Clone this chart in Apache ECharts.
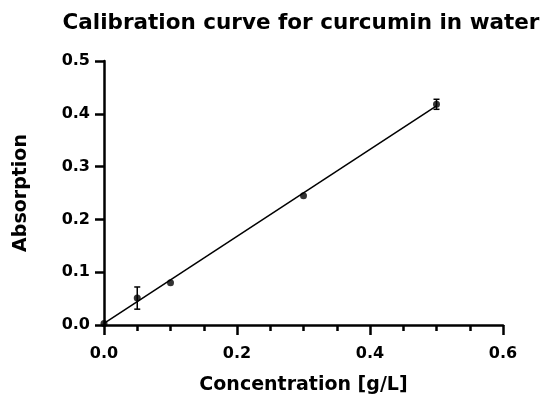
<!DOCTYPE html>
<html>
<head>
<meta charset="utf-8">
<script src="https://cdn.jsdelivr.net/npm/echarts@6/dist/echarts.min.js"></script>
<style>html,body{margin:0;padding:0;background:#fff;}#c{width:550px;height:404px;}</style>
</head>
<body>
<div id="c"></div>
<script>
const concentration = [0, 0.05, 0.1, 0.3, 0.5];
const absorption = [0.003, 0.051, 0.080, 0.245, 0.418];
const errors = [0, 0.021, 0, 0, 0.0095];
const fitX = [0, 0.5];
const fitY = [0.003, 0.415];
const xTicks = [0, 0.2, 0.4, 0.6];
const yTicks = [0, 0.1, 0.2, 0.3, 0.4, 0.5];

const FONT = 'DejaVu Sans';
const chart = echarts.init(document.getElementById('c'));
const pts = concentration.map((x, i) => [x, absorption[i]]);
const errData = concentration.map((x, i) => [x, absorption[i] - errors[i], absorption[i] + errors[i]]);
const fitData = fitX.map((x, i) => [x, fitY[i]]);

chart.setOption({
  animation: false,
  backgroundColor: '#fff',
  title: {
    text: 'Calibration curve for curcumin in water',
    left: 296, top: 7, textAlign: 'center',
    textStyle: { fontFamily: FONT, fontWeight: 'bold', fontSize: 21.5, color: '#000' }
  },
  grid: { left: 104, right: 47, top: 61, bottom: 79 },
  xAxis: {
    type: 'value', min: 0, max: 0.6, interval: 0.2,
    name: 'Concentration [g/L]', nameLocation: 'middle', nameGap: 51,
    nameTextStyle: { fontFamily: FONT, fontWeight: 'bold', fontSize: 19, color: '#000' },
    axisLine: { show: true, onZero: false, lineStyle: { color: '#000', width: 2.5 } },
    axisTick: { show: true, inside: false, length: 10, lineStyle: { color: '#000', width: 2.5 } },
    minorTick: { show: true, splitNumber: 4, length: 6, lineStyle: { color: '#000', width: 2.5 } },
    axisLabel: { margin: 21, fontFamily: FONT, fontWeight: 'bold', fontSize: 16, color: '#000',
      formatter: v => xTicks.some(t => Math.abs(t - v) < 1e-9) ? v.toFixed(1) : '' },
    splitLine: { show: false }
  },
  yAxis: {
    type: 'value', min: 0, max: 0.5, interval: 0.1,
    name: 'Absorption', nameLocation: 'middle', nameGap: 73,
    nameTextStyle: { fontFamily: FONT, fontWeight: 'bold', fontSize: 19, color: '#000' },
    axisLine: { show: true, onZero: false, lineStyle: { color: '#000', width: 2.5 } },
    axisTick: { show: true, inside: false, length: 9, lineStyle: { color: '#000', width: 2.5 } },
    axisLabel: { margin: 14, fontFamily: FONT, fontWeight: 'bold', fontSize: 16, color: '#000',
      formatter: v => yTicks.some(t => Math.abs(t - v) < 1e-9) ? v.toFixed(1) : '' },
    splitLine: { show: false }
  },
  series: [
    {
      type: 'line', data: fitData, showSymbol: false, symbol: 'none',
      lineStyle: { color: '#000', width: 1.5 }, z: 2
    },
    {
      type: 'custom', data: errData, z: 3,
      renderItem: (params, api) => {
        const x = api.value(0);
        const lo = api.coord([x, api.value(1)]);
        const hi = api.coord([x, api.value(2)]);
        if (Math.abs(hi[1] - lo[1]) < 1) return null;
        const w = 3;
        const st = { stroke: '#000', lineWidth: 1.5 };
        return { type: 'group', children: [
          { type: 'line', shape: { x1: lo[0], y1: lo[1], x2: hi[0], y2: hi[1] }, style: st },
          { type: 'line', shape: { x1: lo[0] - w, y1: lo[1], x2: lo[0] + w, y2: lo[1] }, style: st },
          { type: 'line', shape: { x1: hi[0] - w, y1: hi[1], x2: hi[0] + w, y2: hi[1] }, style: st }
        ]};
      }
    },
    {
      type: 'scatter', data: pts, symbol: 'circle', symbolSize: 7,
      itemStyle: { color: '#000' }, z: 4
    }
  ]
});
</script>
</body>
</html>
